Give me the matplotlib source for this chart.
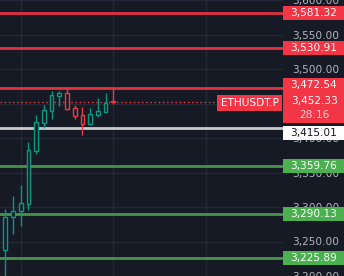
# ETHUSDT.P intraday chart with support / resistance levels (TradingView-like dark theme)

import numpy as np
import matplotlib.pyplot as plt
from matplotlib.patches import Rectangle

# candle data (last bar still forming)
opens  = [3237.9, 3285.9, 3293.9, 3305.0, 3381.6, 3422.4, 3439.1, 3460.6,
          3465.5, 3442.9, 3432.9, 3421.0, 3433.9, 3438.2, 3453.0]
highs  = [3297.8, 3316.0, 3332.3, 3393.6, 3433.3, 3447.7, 3468.8, 3467.8,
          3470.3, 3447.3, 3444.8, 3443.9, 3457.3, 3464.5, 3472.5]
lows   = [3185.0, 3260.9, 3272.3, 3295.3, 3376.8, 3413.8, 3427.1, 3446.3,
          3440.5, 3428.1, 3404.1, 3419.0, 3430.4, 3436.8, 3450.0]
closes = [3285.9, 3293.9, 3306.0, 3383.0, 3423.8, 3440.1, 3461.6, 3465.5,
          3442.5, 3431.9, 3421.0, 3434.3, 3438.6, 3451.1, 3452.33]

# horizontal levels
levels = [3581.32, 3530.91, 3472.54, 3415.01, 3359.76, 3290.13, 3225.89]
level_kind = ['res', 'res', 'res', 'pivot', 'sup', 'sup', 'sup']

last_price = 3452.33
countdown = '28:16'
symbol = 'ETHUSDT.P'
yticks = [3200, 3250, 3300, 3350, 3400, 3450, 3500, 3550, 3600]

# colours
bg = '#161a25'
grid_c = '#242834'
up_c = '#089981'
down_c = '#f23645'
tick_c = '#b2b5be'
line_style = {'res': '#e0323f', 'pivot': '#c9cbd1', 'sup': '#46954a'}
tag_style = {'res': ('#f23645', 'white'), 'pivot': ('white', '#131722'),
             'sup': ('#4caf50', 'white')}

W, H = 344, 276
fig = plt.figure(figsize=(W / 100, H / 100), dpi=100, facecolor=bg)
ax = fig.add_axes([0, 0, 283 / W, 1])
ax.set_facecolor(bg)
ax.set_xlim(-0.69, 36.0)
ax.set_ylim(3202.9, 3599.6)

# grid
for gx in [2, 14, 26]:
    ax.axvline(gx, color=grid_c, lw=1, zorder=0)
for gy in yticks:
    ax.axhline(gy, color=grid_c, lw=1, zorder=0)

# level lines
for lv, kind in zip(levels, level_kind):
    ax.axhline(lv, color=line_style[kind], lw=2, zorder=1)

# last price dotted line
ax.axhline(last_price, color=down_c, lw=1, ls=(0, (1, 2)), zorder=1)

# candles (hollow)
x = np.arange(len(opens))
for i in x:
    o, h, l, c = opens[i], highs[i], lows[i], closes[i]
    col = up_c if c >= o else down_c
    ax.vlines(i, l, min(o, c), color=col, lw=1, zorder=3)
    ax.vlines(i, max(o, c), h, color=col, lw=1, zorder=3)
    ax.add_patch(Rectangle((i - 0.24, min(o, c)), 0.48, max(abs(c - o), 0.6),
                           facecolor=bg, edgecolor=col, lw=1, zorder=4))

# price axis ticks
ax.yaxis.tick_right()
ax.set_yticks(yticks)
ax.set_yticklabels([f'{v:,.2f}' for v in yticks])
ax.tick_params(axis='y', length=0, pad=6.5, labelsize=7.6, labelcolor=tick_c)
ax.set_xticks([])
for s in ax.spines.values():
    s.set_visible(False)

fig.canvas.draw()


def py(price):
    return ax.transData.transform((0, price))[1]


def tag(yc, text, face, tc, h=14, x0=283, w=61, fs=7.6):
    fig.add_artist(Rectangle((x0 / W, (yc - h / 2) / H), w / W, h / H,
                             transform=fig.transFigure, facecolor=face,
                             edgecolor='none', zorder=5))
    fig.text((x0 + w / 2 + 0.5) / W, yc / H, text, color=tc, fontsize=fs,
             ha='center', va='center', zorder=6)


for lv, kind in zip(levels, level_kind):
    face, tc = tag_style[kind]
    yc = py(lv)
    if lv == 3472.54:
        yc += 2.5
    if kind == 'pivot':
        yc -= 5.5
    tag(yc, f'{lv:,.2f}', face, tc)

# current price block
yl = py(last_price)
top = py(3472.54) + 2.5 - 7
fig.add_artist(Rectangle((283 / W, (top - 31) / H), 61 / W, 31 / H,
                         transform=fig.transFigure, facecolor=down_c,
                         edgecolor='none', zorder=5))
fig.text(314.5 / W, (yl + 0.5) / H, f'{last_price:,.2f}', color='white',
         fontsize=7.6, ha='center', va='center', zorder=6)
fig.text(314.5 / W, (yl - 13.5) / H, countdown, color='#fcd3d7',
         fontsize=7.6, ha='center', va='center', zorder=6)

# symbol tag on the chart
tag(yl - 1.5, symbol, down_c, 'white', h=16, x0=216.5, w=65.5)

fig.savefig('out.png', dpi=100, facecolor=bg)
